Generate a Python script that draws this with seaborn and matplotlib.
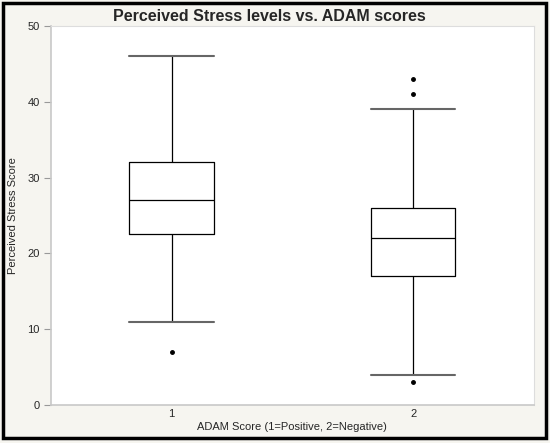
import pandas as pd
import seaborn as sns
import matplotlib.pyplot as plt
from matplotlib.patches import Rectangle

# values (chosen so the box stats match)
group_1 = [7, 11, 22.5, 25, 27, 30, 32, 40, 46]
group_2 = [3, 4, 10, 17, 19, 21, 22, 24, 25, 26, 39, 41, 43]
groups = ['1', '2']

df = pd.DataFrame({
    'adam': [groups[0]] * len(group_1) + [groups[1]] * len(group_2),
    'stress': group_1 + group_2,
})

sns.set_style('white')
plt.rcParams['font.family'] = ['Liberation Sans', 'DejaVu Sans']

fig = plt.figure(figsize=(5.5, 4.43), dpi=100, facecolor='#f6f5f0')
ax = fig.add_axes([0.0927, 0.0858, 0.878, 0.8555])

sns.boxplot(
    data=df, x='adam', y='stress', order=groups, ax=ax,
    width=0.35, whis=1.5, fill=False, color='black', linewidth=0.9,
    whiskerprops=dict(color='black', linewidth=0.9),
    capprops=dict(color='#666666', linewidth=1.5),
    medianprops=dict(color='black', linewidth=0.9),
    flierprops=dict(marker='o', markersize=2.5, markerfacecolor='black',
                    markeredgecolor='black'),
)
# caps span the whole box width
for line in ax.lines:
    xs = line.get_xdata()
    if len(xs) == 2 and xs[0] != xs[1] and line.get_color() == '#666666':
        c = (xs[0] + xs[1]) / 2
        line.set_xdata([c - 0.175, c + 0.175])

ax.set_xlim(-0.5, 1.5)
ax.set_ylim(0, 50)
ax.set_yticks([0, 10, 20, 30, 40, 50])
ax.set_facecolor('white')
for side in ['left', 'bottom']:
    ax.spines[side].set_color('#c8c8c8')
    ax.spines[side].set_linewidth(1.2)
for side in ['top', 'right']:
    ax.spines[side].set_color('#dddddd')
    ax.spines[side].set_linewidth(0.8)
ax.tick_params(axis='y', left=True, length=5, width=0.8, color='#999999',
               labelsize=8, pad=3)
ax.tick_params(axis='x', bottom=False, length=0, labelsize=8, pad=3)

ax.set_xlabel('ADAM Score (1=Positive, 2=Negative)', fontsize=8, labelpad=2)
ax.set_ylabel('Perceived Stress Score', fontsize=8, labelpad=7)
fig.text(0.49, 0.962, 'Perceived Stress levels vs. ADAM scores',
         ha='center', va='center', fontsize=11.5, fontweight='bold')

# dark frame round the whole picture
fig.patches.append(Rectangle((0.006, 0.012), 0.986, 0.981,
                             transform=fig.transFigure, fill=False,
                             edgecolor='black', linewidth=2.5))

fig.savefig('out.png', dpi=100, facecolor=fig.get_facecolor())
